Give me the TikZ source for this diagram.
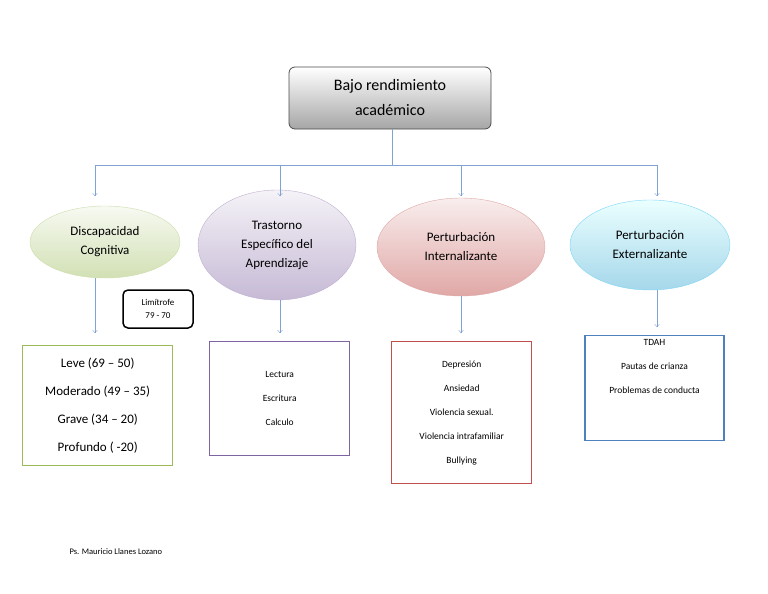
\documentclass[tikz,border=0pt]{standalone}
\usepackage{fontspec}
\setmainfont{Carlito}
\usetikzlibrary{shapes.geometric,arrows.meta}
\definecolor{conn}{HTML}{7FA3D3}
\definecolor{bgreen}{HTML}{9BBB59}
\definecolor{bviolet}{HTML}{8064A2}
\definecolor{bred}{HTML}{C0504D}
\definecolor{bblue}{HTML}{4F81BD}
\tikzset{
  x=1pt, y=-1pt,
  conn/.style = {draw=conn, thin, -{To[length=3pt,width=5pt]}},
  bub/.style = {ellipse, align=center, font=\fontsize{13}{19}\selectfont, draw=#1!50, thin},
  lbox/.style = {draw=#1, line width=1.4pt, rectangle, align=center, anchor=north west},
}
\begin{document}
\begin{tikzpicture}
\useasboundingbox (0,0) rectangle (768,594);
\node[rectangle, rounded corners=6pt, draw=black!70, line width=0.8pt, top color=white, bottom color=black!35,
  minimum width=202pt, minimum height=62pt, align=center, font=\fontsize{16}{25}\selectfont] (top) at (390,98)
  {Bajo rendimiento\\académico};
\node[bub=bgreen, top color=bgreen!8, bottom color=bgreen!45, minimum width=150pt, minimum height=72pt] (e1) at (105,242) {Discapacidad\\Cognitiva};
\node[bub=bviolet, top color=bviolet!8, bottom color=bviolet!45, minimum width=158pt, minimum height=110pt] (e2) at (277,245) {Trastorno\\Específico del\\Aprendizaje};
\node[bub=bred, top color=bred!10, bottom color=bred!50, minimum width=168pt, minimum height=98pt] (e3) at (461,247) {Perturbación\\Internalizante};
\node[bub=cyan, top color=cyan!8, bottom color=cyan!30!bblue!45, minimum width=160pt, minimum height=90pt] (e4) at (650,245) {Perturbación\\Externalizante};
\coordinate (h) at (392,165);
\coordinate (h1) at (95,165);
\coordinate (h2) at (280,165);
\coordinate (h3) at (461,165);
\coordinate (h4) at (657,165);
\draw[conn, -] (top.south -| h) -- (h);
\draw[conn, -] (h1) -- (h4);
\draw[conn] (h1) -- (95,196);
\draw[conn] (h2) -- (280,196);
\draw[conn] (h3) -- (461,196);
\draw[conn] (h4) -- (657,196);
\node[draw, line width=1.5pt, rounded corners=5pt, minimum width=70pt, minimum height=38pt, align=center,
  font=\fontsize{9}{13}\selectfont] (lim) at (158,309) {Limítrofe\\79 - 70};
\node[lbox=bgreen, minimum width=150pt, minimum height=120pt, font=\fontsize{13}{17}\selectfont] (b1) at (22,345)
  {Leve (69 – 50)\\[11pt]Moderado (49 – 35)\\[11pt]Grave (34 – 20)\\[11pt]Profundo ( -20)};
\node[lbox=bviolet, minimum width=140pt, minimum height=114pt, font=\fontsize{9.5}{13}\selectfont] (b2) at (209,341)
  {Lectura\\[11pt]Escritura\\[11pt]Calculo};
\node[lbox=bred, minimum width=140pt, minimum height=142pt, font=\fontsize{9.5}{13}\selectfont] (b3) at (391,341)
  {Depresión\\[11pt]Ansiedad\\[11pt]Violencia sexual.\\[11pt]Violencia intrafamiliar\\[11pt]Bullying};
\node[lbox=bblue, minimum width=139pt, minimum height=105pt, font=\fontsize{9.5}{13}\selectfont, anchor=north] (b4) at (654.5,335)
  {TDAH\\[11pt]Pautas de crianza\\[11pt]Problemas de conducta\\[30pt]\mbox{}};
\draw[conn] (95,278) -- (95,333);
\draw[conn] (280,300) -- (280,333);
\draw[conn] (461,296) -- (461,333);
\draw[conn] (657,290) -- (657,327);
\node[font=\fontsize{8.5}{10}\selectfont, anchor=west] (foot) at (66,552) {Ps. Mauricio Llanes Lozano};
\end{tikzpicture}
\end{document}
